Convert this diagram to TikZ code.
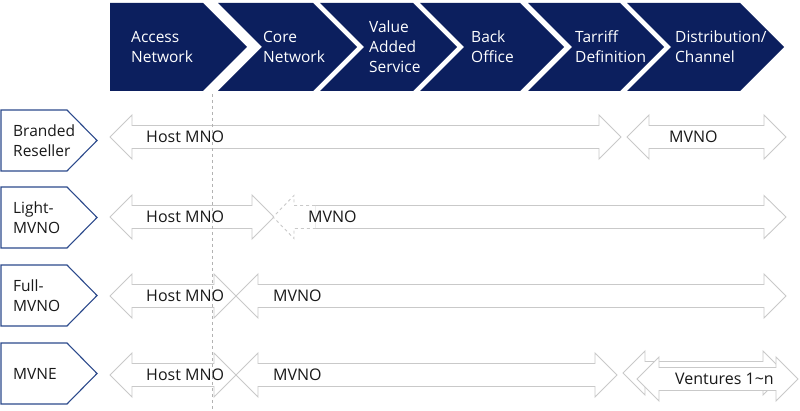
\documentclass[tikz,border=0pt]{standalone}
\usepackage{fontspec}
\setmainfont{Open Sans}
\usepackage{tikz}
\usetikzlibrary{calc}
\usetikzlibrary{positioning}
\definecolor{navy}{HTML}{0C1F5E}
\definecolor{rowblue}{HTML}{2C4A8C}
\definecolor{arrowgray}{HTML}{C9C9C9}

% two-way block arrow: [style] left tip, right tip, middle height
\newcommand{\TwoWayArrow}[4][]{%
	\draw[BlockArrow,#1] (#2,#4) -- ++(22,-22) -- ++(0,10.5) -- (#3-22,#4-11.5) -- ++(0,-10.5)
	-- (#3,#4) -- ++(-22,22) -- ++(0,-10.5) -- (#2+22,#4+11.5) -- ++(0,10.5) -- cycle;
}

\begin{document}
\begin{tikzpicture}[
	x=1pt, y=-1pt,
	HeadText/.style={anchor=west,inner sep=0pt,align=left,text=white,font=\fontsize{15.5}{20}\selectfont},
	RowLabel/.style={draw=rowblue,fill=white,line width=1.1pt},
	RowText/.style={anchor=west,inner sep=0pt,align=left,text=black!90,font=\fontsize{15.5}{20}\selectfont},
	BlockArrow/.style={draw=arrowgray,fill=white,line width=0.9pt,line join=miter},
	ArrowText/.style={anchor=west,inner sep=0pt,text=black!90,font=\fontsize{16}{20}\selectfont},
	GuideLine/.style={draw=black!30,dashed,line width=0.7pt}
	]
	\useasboundingbox (0,0) rectangle (800,411);
	
	% value chain
	\fill[navy] (110,3) -- (203,3) -- (247,47) -- (203,91) -- (110,91) -- cycle;
	\foreach \L/\R in {218/313, 320/413, 420/520, 528/620, 627/740}
	{ \fill[navy] (\L,3) -- (\R,3) -- (\R+44,47) -- (\R,91) -- (\L,91) -- (\L+44,47) -- cycle;
	}
	
	\node[HeadText] (hAccess) at (131,47) {Access\\Network};
	\node[HeadText] (hCore) at (263,47) {Core\\Network};
	\node[HeadText] (hValue) at (369,47) {Value\\Added\\Service};
	\node[HeadText] (hBack) at (471,47) {Back\\Office};
	\node[HeadText] (hTariff) at (575,47) {Tarriff\\Definition};
	\node[HeadText] (hChannel) at (675,47) {Distribution/\\Channel};
	
	% operator types
	\foreach \T/\B in {110/171, 187/248, 265/326, 343/404}
	{ \draw[RowLabel] (1,\T) -- (67,\T) -- (97,{(\T+\B)/2}) -- (67,\B) -- (1,\B) -- cycle;
	}
	\node[RowText] (lBranded) at (13,141) {Branded\\Reseller};
	\node[RowText] (lLight) at (13,218) {Light-\\MVNO};
	\node[RowText] (lFull) at (13,296) {Full-\\MVNO};
	\node[RowText] (lMVNE) at (13,374) {MVNE};
	
	% Branded Reseller
	\TwoWayArrow{110}{621}{137}
	\TwoWayArrow{627}{786}{137}
	
	% Light-MVNO
	\TwoWayArrow{110}{274}{217}
	\draw[BlockArrow] (315,205.5) -- (764,205.5) -- (764,195.5) -- (786,217) -- (764,238.5)
	-- (764,228.5) -- (315,228.5) -- cycle;
	\draw[BlockArrow,dashed] (315,205.5) -- (294,205.5) -- (294,195.5) -- (273,217)
	-- (294,238.5) -- (294,228.5) -- (315,228.5);
	
	% Full-MVNO
	\TwoWayArrow{110}{236}{296}
	\TwoWayArrow{236}{786}{296}
	
	% MVNE
	\TwoWayArrow{110}{236}{375}
	\TwoWayArrow{236}{617}{375}
	\TwoWayArrow{623}{785}{373}
	\TwoWayArrow{637}{798}{379}
	
	\draw[GuideLine] (212,94) -- (212,411);
	
	\node[ArrowText] (tHost1) at (146,137) {Host MNO};
	\node[ArrowText] (tMvno1) at (669,137) {MVNO};
	\node[ArrowText] (tHost2) at (146,217) {Host MNO};
	\node[ArrowText] (tMvno2) at (308,217) {MVNO};
	\node[ArrowText] (tHost3) at (146,296) {Host MNO};
	\node[ArrowText] (tMvno3) at (273,296) {MVNO};
	\node[ArrowText] (tHost4) at (146,375) {Host MNO};
	\node[ArrowText] (tMvno4) at (273,375) {MVNO};
	\node[ArrowText] (tVentures) at (675,379) {Ventures 1\textasciitilde n};
	
\end{tikzpicture}
\end{document}
